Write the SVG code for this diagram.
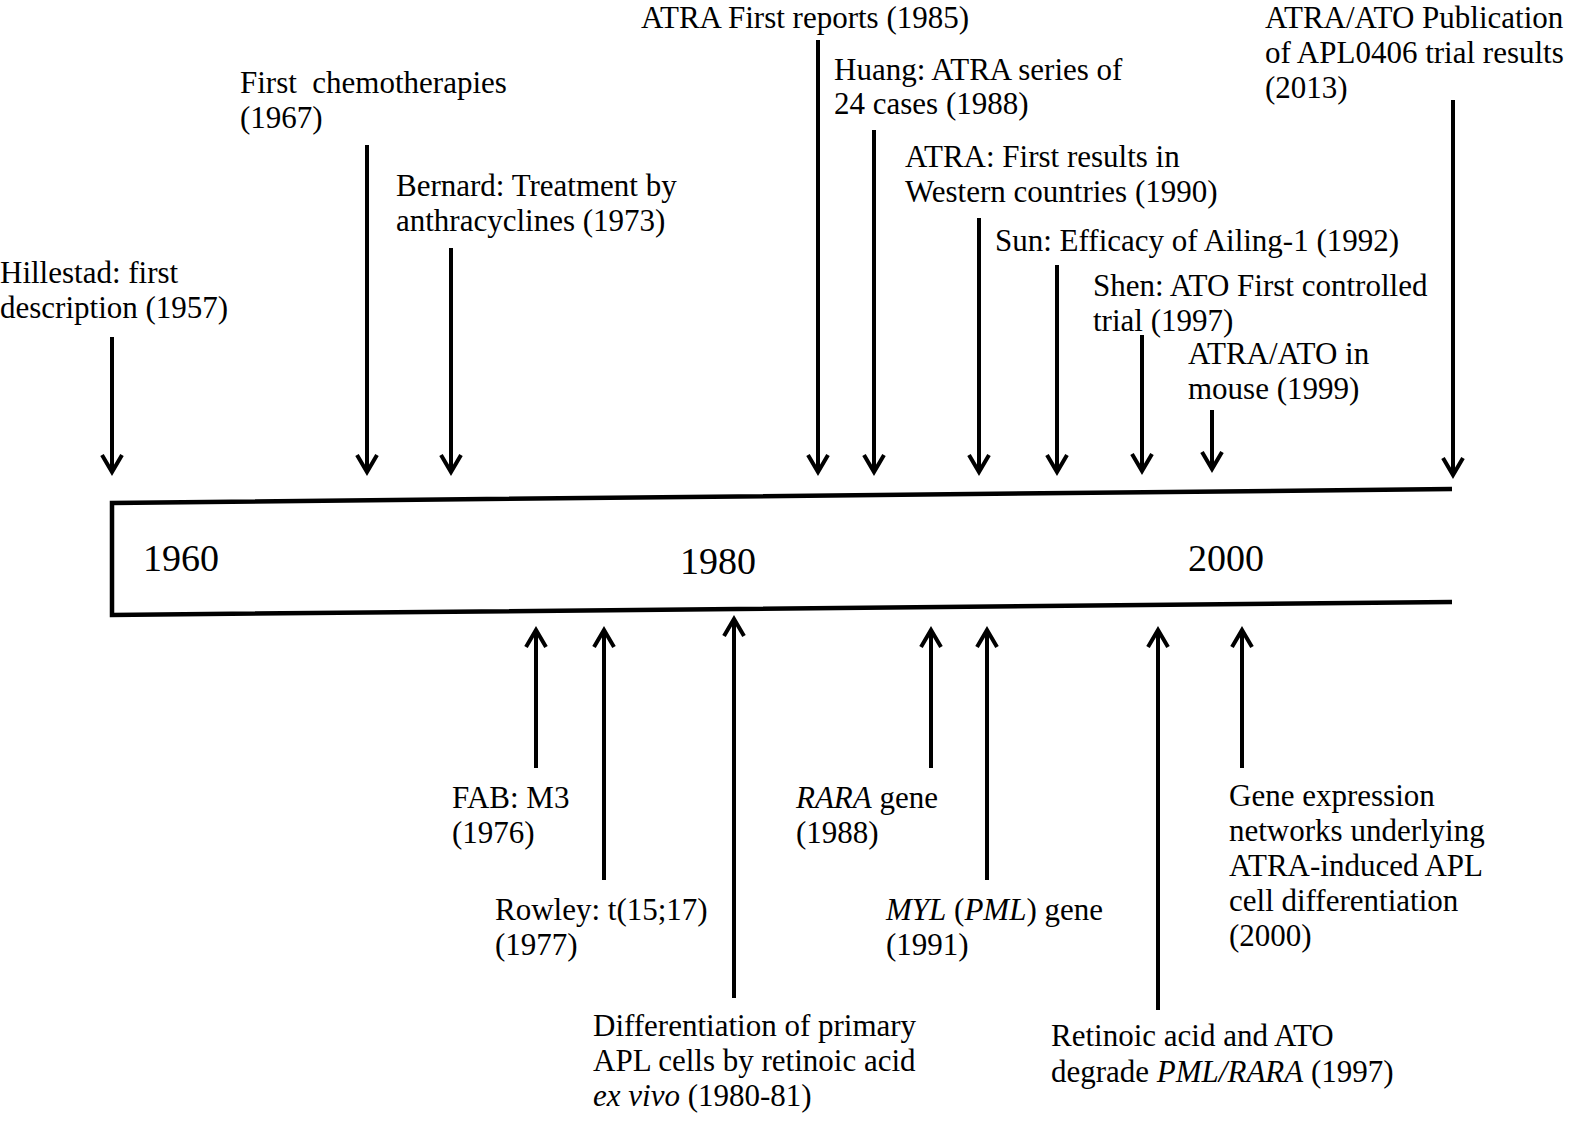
<svg xmlns="http://www.w3.org/2000/svg" width="1594" height="1132" viewBox="0 0 1594 1132">
<defs>
<style>
text{font-family:"Liberation Serif","Times New Roman",serif;font-size:31px;fill:#000}
.yr{font-size:38px}
.i{font-style:italic}
.ar{stroke:#000;stroke-width:4;fill:none;marker-end:url(#ah)}
.band{stroke:#000;stroke-width:4.5;fill:none}
</style>
<marker id="ah" markerUnits="userSpaceOnUse" markerWidth="30" markerHeight="30" viewBox="-20 -15 25 30" refX="0" refY="0" orient="auto">
<path d="M-17,-10 L0,0 L-17,10" fill="none" stroke="#000" stroke-width="4"/>
</marker>
</defs>
<rect width="1594" height="1132" fill="#fff"/>
<g id="timeline">
<path class="band" d="M1452,489 L112,503 L112,615 L1452,602"/>
<text class="yr" x="143" y="571">1960</text>
<text class="yr" x="680" y="574">1980</text>
<text class="yr" x="1188" y="571">2000</text>
</g>
<g id="connectors">
<line class="ar" x1="112" y1="337" x2="112" y2="472"/>
<line class="ar" x1="367" y1="145" x2="367" y2="472"/>
<line class="ar" x1="451" y1="248" x2="451" y2="472"/>
<line class="ar" x1="818" y1="40" x2="818" y2="472"/>
<line class="ar" x1="874" y1="130" x2="874" y2="472"/>
<line class="ar" x1="979" y1="218" x2="979" y2="472"/>
<line class="ar" x1="1057" y1="265" x2="1057" y2="472"/>
<line class="ar" x1="1142" y1="335" x2="1142" y2="471"/>
<line class="ar" x1="1212" y1="410" x2="1212" y2="469"/>
<line class="ar" x1="1453" y1="100" x2="1453" y2="475"/>
<line class="ar" x1="536" y1="768" x2="536" y2="630"/>
<line class="ar" x1="604" y1="880" x2="604" y2="630"/>
<line class="ar" x1="734" y1="998" x2="734" y2="619"/>
<line class="ar" x1="931" y1="768" x2="931" y2="630"/>
<line class="ar" x1="987" y1="880" x2="987" y2="630"/>
<line class="ar" x1="1158" y1="1010" x2="1158" y2="630"/>
<line class="ar" x1="1242" y1="768" x2="1242" y2="630"/>
</g>
<g id="n1957"><text x="0" y="283">Hillestad: first</text><text x="0" y="318">description (1957)</text></g>
<g id="n1967"><text x="240" y="93" xml:space="preserve">First  chemotherapies</text><text x="240" y="128">(1967)</text></g>
<g id="n1973"><text x="396" y="196">Bernard: Treatment by</text><text x="396" y="231">anthracyclines (1973)</text></g>
<g id="n1985"><text x="641" y="28">ATRA First reports (1985)</text></g>
<g id="n1988a"><text x="834" y="80">Huang: ATRA series of</text><text x="834" y="114">24 cases (1988)</text></g>
<g id="n1990"><text x="905" y="167">ATRA: First results in</text><text x="905" y="202">Western countries (1990)</text></g>
<g id="n1992"><text x="995" y="251">Sun: Efficacy of Ailing-1 (1992)</text></g>
<g id="n1997a"><text x="1093" y="296">Shen: ATO First controlled</text><text x="1093" y="331">trial (1997)</text></g>
<g id="n1999"><text x="1188" y="364">ATRA/ATO in</text><text x="1188" y="399">mouse (1999)</text></g>
<g id="n2013"><text x="1265" y="28">ATRA/ATO Publication</text><text x="1265" y="63">of APL0406 trial results</text><text x="1265" y="98">(2013)</text></g>
<g id="n1976"><text x="452" y="808">FAB: M3</text><text x="452" y="843">(1976)</text></g>
<g id="n1977"><text x="495" y="920">Rowley: t(15;17)</text><text x="495" y="955">(1977)</text></g>
<g id="n1980"><text x="593" y="1036">Differentiation of primary</text><text x="593" y="1071">APL cells by retinoic acid</text><text x="593" y="1106"><tspan class="i">ex vivo</tspan> (1980-81)</text></g>
<g id="n1988b"><text x="796" y="808"><tspan class="i">RARA</tspan> gene</text><text x="796" y="843">(1988)</text></g>
<g id="n1991"><text x="886" y="920"><tspan class="i">MYL</tspan> (<tspan class="i">PML</tspan>) gene</text><text x="886" y="955">(1991)</text></g>
<g id="n1997b"><text x="1051" y="1046">Retinoic acid and ATO</text><text x="1051" y="1082">degrade <tspan class="i">PML/RARA</tspan> (1997)</text></g>
<g id="n2000"><text x="1229" y="806">Gene expression</text><text x="1229" y="841">networks underlying</text><text x="1229" y="876">ATRA-induced APL</text><text x="1229" y="911">cell differentiation</text><text x="1229" y="946">(2000)</text></g>
</svg>
